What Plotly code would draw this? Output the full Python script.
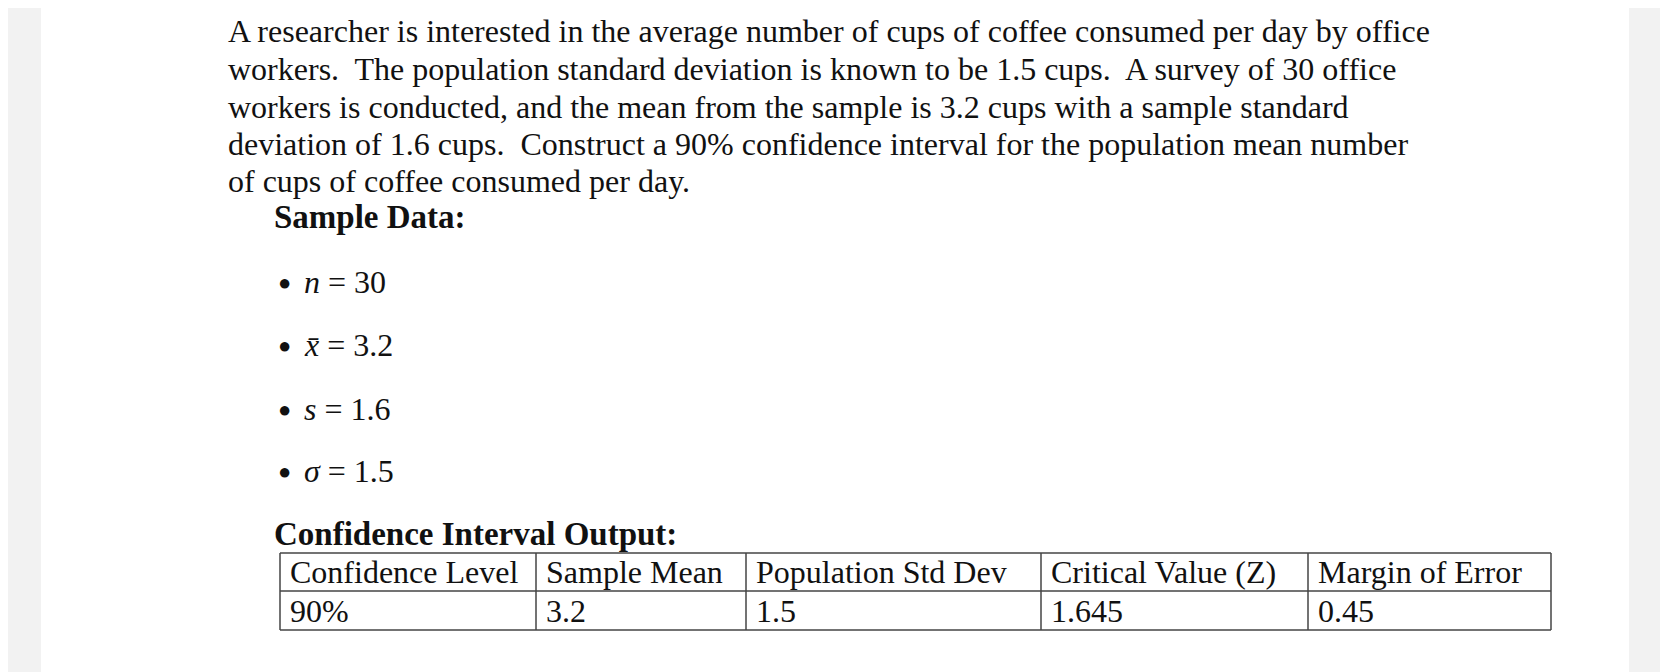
import plotly.graph_objects as go

W, H = 1668, 672
para_lines = [
    "A researcher is interested in the average number of cups of coffee consumed per day by office",
    "workers.  The population standard deviation is known to be 1.5 cups.  A survey of 30 office",
    "workers is conducted, and the mean from the sample is 3.2 cups with a sample standard",
    "deviation of 1.6 cups.  Construct a 90% confidence interval for the population mean number",
    "of cups of coffee consumed per day.",
]
para_y = [23, 61, 99, 136, 173]
bullet_items = ["<i>n</i> = 30", "<i>x̄</i> = 3.2", "<i>s</i> = 1.6", "<i>σ</i> = 1.5"]
bullet_y = [274, 337, 401, 463]
headers = ["Confidence Level", "Sample Mean", "Population Std Dev", "Critical Value (Z)", "Margin of Error"]
values = ["90%", "3.2", "1.5", "1.645", "0.45"]
col_edges = [272, 528, 738, 1033, 1300, 1543]
row_edges = [545, 583, 622]

F = "Liberation Serif"
fig = go.Figure()
ann = []
shapes = [dict(type="rect", xref="x", yref="y", x0=33, x1=1621, y0=-10, y1=H + 10,
               fillcolor="white", line=dict(width=0), layer="below")]

def txt(x, y, s, size=32, bold=False):
    ann.append(dict(x=x, y=y, xref="x", yref="y", text=("<b>%s</b>" % s) if bold else s,
                    showarrow=False, xanchor="left", yanchor="middle",
                    font=dict(family=F, size=size, color="#111")))

for s, y in zip(para_lines, para_y):
    txt(218, y, s)
txt(264, 209, "Sample Data:", size=33, bold=True)
for s, y in zip(bullet_items, bullet_y):
    txt(268, y, "●", size=22)
    txt(294, y, s)
txt(264, 526, "Confidence Interval Output:", size=33, bold=True)
for i in range(5):
    txt(col_edges[i] + 8, (row_edges[0] + row_edges[1]) / 2, headers[i])
    txt(col_edges[i] + 8, (row_edges[1] + row_edges[2]) / 2, values[i])
for x in col_edges:
    shapes.append(dict(type="line", xref="x", yref="y", x0=x, x1=x, y0=row_edges[0], y1=row_edges[-1],
                       line=dict(color="#444", width=1.5)))
for y in row_edges:
    shapes.append(dict(type="line", xref="x", yref="y", x0=col_edges[0], x1=col_edges[-1], y0=y, y1=y,
                       line=dict(color="#444", width=1.5)))

fig.update_layout(width=W, height=H, margin=dict(l=0, r=0, t=0, b=0),
                  paper_bgcolor="#f2f2f2", plot_bgcolor="#f2f2f2",
                  xaxis=dict(range=[0, W], visible=False, fixedrange=True),
                  yaxis=dict(range=[H, 0], visible=False, fixedrange=True),
                  annotations=ann, shapes=shapes, showlegend=False)
fig.write_html("out.html", config={"displayModeBar": False})
